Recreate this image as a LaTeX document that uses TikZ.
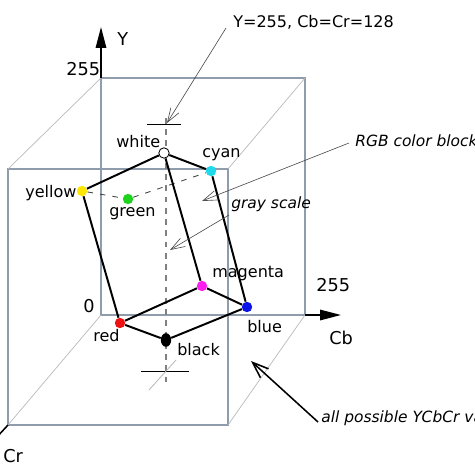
\documentclass[tikz,border=0pt]{standalone}
\usepackage{fontspec}
\setmainfont{DejaVu Sans}
\usetikzlibrary{arrows.meta,shapes.geometric}
\definecolor{cubegray}{HTML}{8E9CAB}
\definecolor{dotcyan}{HTML}{1FD8EA}
\definecolor{dotyellow}{HTML}{FFE600}
\definecolor{dotgreen}{HTML}{1ED21E}
\definecolor{dotmagenta}{HTML}{FF1EF0}
\definecolor{dotblue}{HTML}{0A14E6}
\definecolor{dotred}{HTML}{EE1111}
\begin{document}
\begin{tikzpicture}[x=0.25mm,y=-0.25mm, every node/.style={font=\fontsize{11.4}{13}\selectfont,inner sep=0pt,anchor=base west},
  dot/.style={circle,inner sep=0pt,minimum size=2.6mm,anchor=center},
  edge/.style={line width=1.4pt},
  face/.style={draw=cubegray,line width=1pt},
  diag/.style={draw=gray!55,line width=0.5pt},
  ptr/.style={draw=black!70,line width=0.45pt,-{Straight Barb[length=3.5mm,width=2.4mm]}},
  axis/.style={line width=1.1pt,-{Triangle[length=5.2mm,width=2.6mm]}},
  axlbl/.style={font=\fontsize{12.6}{14}\selectfont},
  note/.style={font=\itshape\fontsize{11}{13}\selectfont}]
\useasboundingbox (0,0) rectangle (474,474);
% cube
\draw[face] (101,78) rectangle (305,315);
\draw[face] (8,169) rectangle (228,425);
\draw[diag] (101,78) -- (8,169);
\draw[diag] (305,78) -- (228,169);
\draw[diag] (305,315) -- (228,425);
\draw[diag] (101,315) -- (8,425);
% axes
\draw[axis] (101,78) -- (101,27);
\draw[axis] (305,315) -- (341,315);
\draw[axis] (8,425) -- (-27,463);
\node[axlbl] (ylbl) at (117,45) {Y};
\node[axlbl] (ymax) at (66,75) {255};
\node[axlbl] (cbmax) at (316,291) {255};
\node[axlbl] (cblbl) at (329,344) {Cb};
\node[axlbl] (zero) at (83,312) {0};
\node[axlbl] (crlbl) at (3,462) {Cr};
% gray axis
\draw[gray,line width=1.1pt,dash pattern=on 4pt off 4pt] (166,118) -- (166,383);
\draw[line width=0.7pt] (147,124) -- (181,124);
\draw[line width=0.7pt] (141,371) -- (189,371);
\draw[diag,line width=0.6pt] (149,390) -- (176,360);
% colour corners
\node[dot,draw,line width=0.6pt,fill=white] (white) at (164,153) {};
\node[dot,fill=dotcyan] (cyan) at (211,171) {};
\node[dot,fill=dotyellow] (yellow) at (82,191) {};
\node[dot,fill=dotgreen] (green) at (128,199) {};
\node[dot,fill=dotmagenta] (magenta) at (202,286) {};
\node[dot,fill=dotblue] (blue) at (247,307) {};
\node[dot,fill=dotred] (red) at (120,323) {};
\node[dot,ellipse,fill=black,minimum width=2.6mm,minimum height=3.4mm] (black) at (166,340) {};
\draw[black!75,line width=0.6pt,dash pattern=on 4pt off 5pt] (yellow) -- (green) -- (cyan);
\draw[edge] (yellow) -- (white) -- (cyan);
\draw[edge] (white) -- (magenta);
\draw[edge] (cyan) -- (blue);
\draw[edge] (yellow) -- (red);
\draw[edge] (red) -- (magenta) -- (blue);
\draw[edge] (red) -- (black) -- (blue);
\node (lwhite) at (116,147) {white};
\node (lcyan) at (202,157) {cyan};
\node (lyellow) at (25,197) {yellow};
\node (lgreen) at (109,216) {green};
\node (lmagenta) at (212,277) {magenta};
\node (lblue) at (247,332) {blue};
\node (lred) at (93,341) {red};
\node (lblack) at (177,355) {black};
% notes
\node (ytxt) at (233,27) {Y=255, Cb=Cr=128};
\node[note] (rgbtxt) at (355,146) {RGB color block};
\node[note] (graytxt) at (231,208) {gray scale};
\node[note] (alltxt) at (321,422) {all possible YCbCr values};
\coordinate (ytip) at (167,123);
\coordinate (rgbtip) at (202,201);
\coordinate (graytip) at (170,250);
\coordinate (alltip) at (251,361);
\draw[ptr] (226,28) -- (ytip);
\draw[ptr] (349,143) -- (rgbtip);
\draw[ptr] (229,215) -- (graytip);
\draw[line width=1.1pt,-{Straight Barb[length=4mm,width=3mm]}] (318,422) -- (alltip);
\end{tikzpicture}
\end{document}
